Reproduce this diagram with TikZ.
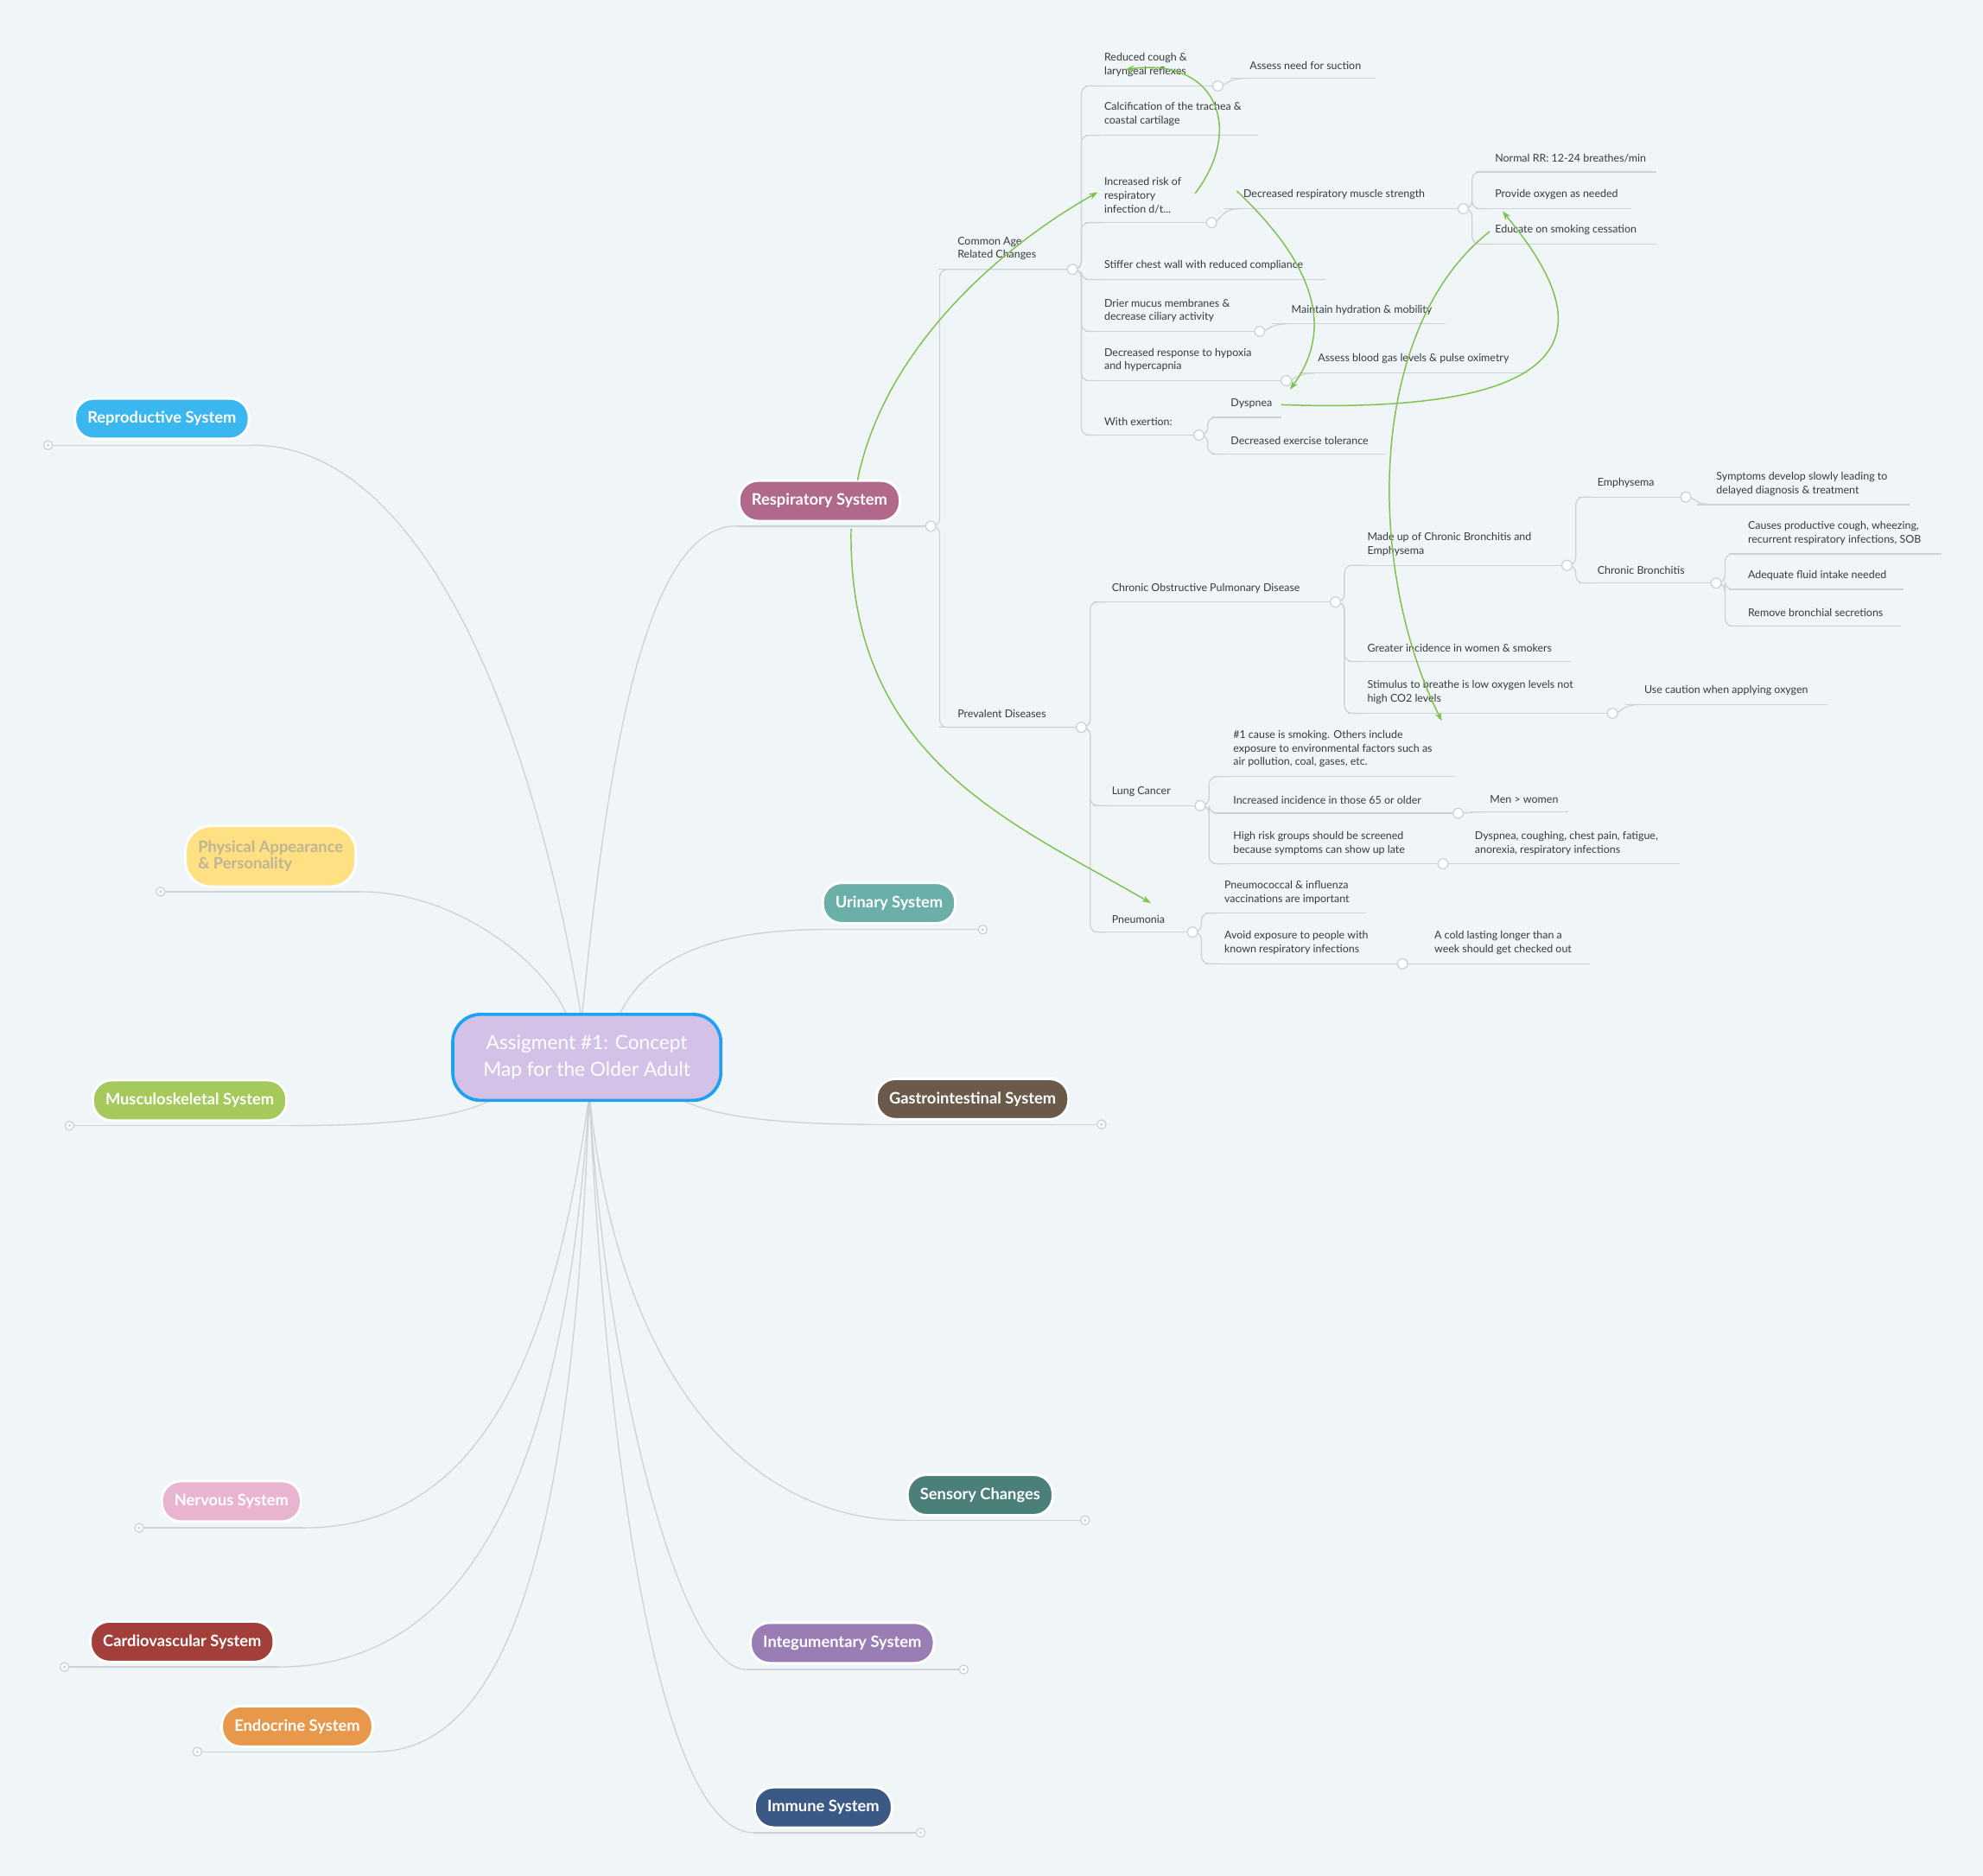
\documentclass[tikz,border=0pt]{standalone}
\usepackage{fontspec}
\setmainfont{Lato}
\usetikzlibrary{arrows.meta}
\definecolor{bg}{HTML}{F0F5F8}
\definecolor{lnc}{HTML}{CDD2D6}
\definecolor{txt}{HTML}{3A3A3A}
\definecolor{grn}{HTML}{7DC24B}
\tikzset{
 ln/.style={draw=lnc,line width=0.9pt},
 lbl/.style={text=txt,font=\fontsize{8.5}{10.8}\selectfont,align=left,inner sep=1pt},
 dotc/.style={circle,draw=lnc,fill=white,line width=0.9pt,minimum size=8pt,inner sep=0pt},
 mdot/.style={circle,draw=lnc,fill=white,line width=0.9pt,minimum size=7pt,inner sep=0pt,path picture={\fill[lnc](path picture bounding box.center) circle(1.2pt);}},
 pill/.style={rounded corners=15pt,draw=white,line width=2pt,text=white,font=\fontsize{12.5}{14}\selectfont\bfseries,minimum height=32pt,inner xsep=10pt},
 garr/.style={draw=grn,line width=1pt,-{Stealth[length=7pt,width=5pt]}},
}
\newcommand\leaf[5]{\node[lbl,anchor=south west] (#5) at (#1+14,#2-6) {#4};\draw[ln] (#1,#2)--(#3,#2);}
\newcommand\br[4]{\draw[ln,rounded corners=6] (#1,#2) -- (#1+7,#2) -- (#1+7,#4) -- (#3,#4);}
\newcommand\sbr[4]{\draw[ln] (#1,#2) .. controls (#1+8,#2) and (#1+6,#4) .. (#3,#4);}
\newcommand\cc[3]{\node[dotc] (#3) at (#1,#2) {};}
\begin{document}
\begin{tikzpicture}[x=1pt,y=-1pt]
\fill[bg] (0,0) rectangle (1568,1483);
\useasboundingbox (0,0) rectangle (1568,1483);
% main branch curves
\coordinate (ct) at (460,806);
\coordinate (cb) at (466,866);
\draw[ln] (200,352) .. controls (330,352) and (420,560) .. (ct);
\draw[ln] (285,705) .. controls (360,705) and (430,760) .. (448,802);
\draw[ln] (230,890) .. controls (330,890) and (370,880) .. (392,868);
\draw[ln] (240,1208) .. controls (390,1208) and (440,1050) .. (cb);
\draw[ln] (220,1318) .. controls (400,1318) and (450,1100) .. (cb);
\draw[ln] (297,1385) .. controls (420,1385) and (455,1150) .. (cb);
\draw[ln] (582,416) .. controls (510,416) and (480,600) .. (ct);
\draw[ln] (650,735) .. controls (560,735) and (510,760) .. (490,802);
\draw[ln] (690,889) .. controls (600,889) and (560,880) .. (540,870);
\draw[ln] (716,1202) .. controls (600,1202) and (490,1100) .. (cb);
\draw[ln] (590,1320) .. controls (540,1320) and (480,1100) .. (cb);
\draw[ln] (596,1449) .. controls (520,1449) and (480,1150) .. (cb);
% branch underlines
\draw[ln] (38,352)--(200,352); \node[mdot] at (38,352){};
\draw[ln] (127,705)--(285,705); \node[mdot] at (127,705){};
\draw[ln] (55,890)--(230,890); \node[mdot] at (55,890){};
\draw[ln] (110,1208)--(240,1208); \node[mdot] at (110,1208){};
\draw[ln] (51,1318)--(220,1318); \node[mdot] at (51,1318){};
\draw[ln] (156,1385)--(297,1385); \node[mdot] at (156,1385){};
\draw[ln] (582,416)--(736,416);
\draw[ln] (650,735)--(777,735); \node[mdot] at (777,735){};
\draw[ln] (690,889)--(871,889); \node[mdot] at (871,889){};
\draw[ln] (716,1202)--(858,1202); \node[mdot] at (858,1202){};
\draw[ln] (590,1320)--(762,1320); \node[mdot] at (762,1320){};
\draw[ln] (596,1449)--(728,1449); \node[mdot] at (728,1449){};
% central
\node[rounded corners=22pt,draw={rgb,255:red,29;green,161;blue,242},line width=2.5pt,fill={rgb,255:red,212;green,193;blue,232},text=white,font=\fontsize{15.5}{21}\selectfont,align=center,minimum width=212pt,minimum height=68pt] (center) at (464,836) {Assigment \#1: Concept\\Map for the Older Adult};
% pills
\node[pill,fill={rgb,255:red,59;green,183;blue,240}] (repro) at (128,331) {Reproductive System};
\node[pill,fill={rgb,255:red,255;green,224;blue,130},text={rgb,255:red,190;green,180;blue,150},align=left,rounded corners=20pt,minimum height=48pt] (phys) at (214,677) {Physical Appearance\\[-1pt]\& Personality};
\node[pill,fill={rgb,255:red,165;green,201;blue,90}] (musc) at (150,870) {Musculoskeletal System};
\node[pill,fill={rgb,255:red,232;green,180;blue,207}] (nerv) at (183,1187) {Nervous System};
\node[pill,fill={rgb,255:red,163;green,63;blue,58}] (card) at (144,1298) {Cardiovascular System};
\node[pill,fill={rgb,255:red,232;green,152;blue,74}] (endo) at (235,1365) {Endocrine System};
\node[pill,fill={rgb,255:red,176;green,105;blue,138}] (resp) at (648,396) {Respiratory System};
\node[pill,fill={rgb,255:red,107;green,176;blue,168}] (urin) at (703,714) {Urinary System};
\node[pill,fill={rgb,255:red,107;green,90;blue,74}] (gast) at (769,869) {Gastrointestinal System};
\node[pill,fill={rgb,255:red,74;green,127;blue,122}] (sens) at (775,1182) {Sensory Changes};
\node[pill,fill={rgb,255:red,155;green,125;blue,181}] (integ) at (666,1299) {Integumentary System};
\node[pill,fill={rgb,255:red,58;green,90;blue,133}] (immu) at (651,1429) {Immune System};
% respiratory subtree
\br{736}{416}{848}{213} \br{736}{416}{855}{575}
\leaf{742}{213}{848}{Common Age\\Related Changes}{cac}
\leaf{742}{575}{855}{Prevalent Diseases}{pd}
\cc{736}{416}{rc}
% common age children
\foreach \yy in {68,107,176,221,262,301,344} {\br{848}{213}{870}{\yy}}
\leaf{858}{68}{963}{Reduced cough \&\\laryngeal reflexes}{a1}
\leaf{858}{107}{995}{Calcification of the trachea \&\\coastal cartilage}{a2}
\leaf{858}{176}{958}{Increased risk of\\respiratory\\infection d/t...}{a3}
\leaf{858}{221}{1048}{Stiffer chest wall with reduced compliance}{a4}
\leaf{858}{262}{996}{Drier mucus membranes \&\\decrease ciliary activity}{a5}
\leaf{858}{301}{1017}{Decreased response to hypoxia\\and hypercapnia}{a6}
\leaf{858}{344}{948}{With exertion:}{a7}
\cc{848}{213}{c0}
\sbr{963}{68}{985}{62} \leaf{973}{62}{1088}{Assess need for suction}{b1} \cc{963}{68}{c1}
\sbr{958}{176}{980}{165} \leaf{968}{165}{1157}{Decreased respiratory muscle strength}{b3}
\foreach \yy in {136,165,193} {\br{1157}{165}{1180}{\yy}}
\leaf{1167}{136}{1310}{Normal RR: 12-24 breathes/min}{d1}
\leaf{1167}{165}{1290}{Provide oxygen as needed}{d2}
\leaf{1167}{193}{1310}{Educate on smoking cessation}{d3}
\cc{958}{176}{c3}\cc{1157}{165}{c3b}
\sbr{996}{262}{1020}{256} \leaf{1006}{256}{1143}{Maintain hydration \& mobility}{b5} \cc{996}{262}{c5}
\sbr{1017}{301}{1040}{295} \leaf{1027}{295}{1208}{Assess blood gas levels \& pulse oximetry}{b6} \cc{1017}{301}{c6}
\br{948}{344}{970}{330} \br{948}{344}{970}{359}
\leaf{958}{330}{1013}{Dyspnea}{b7} \leaf{958}{359}{1096}{Decreased exercise tolerance}{b8} \cc{948}{344}{c7}
% prevalent diseases
\foreach \yy in {476,637,737} {\br{855}{575}{875}{\yy}}
\leaf{864}{476}{1056}{Chronic Obstructive Pulmonary Disease}{copd}
\leaf{864}{637}{949}{Lung Cancer}{lc}
\leaf{864}{737}{943}{Pneumonia}{pn}
\cc{855}{575}{cp}
\foreach \yy in {447,523,564} {\br{1056}{476}{1080}{\yy}}
\leaf{1066}{447}{1239}{Made up of Chronic Bronchitis and\\Emphysema}{m1}
\leaf{1066}{523}{1242}{Greater incidence in women \& smokers}{m2}
\leaf{1066}{564}{1275}{Stimulus to breathe is low oxygen levels not\\high CO2 levels}{m3}
\cc{1056}{476}{ccopd}
\br{1239}{447}{1260}{393} \br{1239}{447}{1260}{461}
\leaf{1248}{393}{1333}{Emphysema}{em} \leaf{1248}{461}{1357}{Chronic Bronchitis}{cb}
\cc{1239}{447}{cm1}
\sbr{1333}{393}{1355}{399} \leaf{1342}{399}{1510}{Symptoms develop slowly leading to\\delayed diagnosis \& treatment}{em1} \cc{1333}{393}{cem}
\foreach \yy in {438,466,495} {\br{1357}{461}{1378}{\yy}}
\leaf{1367}{438}{1535}{Causes productive cough, wheezing,\\recurrent respiratory infections, SOB}{cb1}
\leaf{1367}{466}{1505}{Adequate fluid intake needed}{cb2}
\leaf{1367}{495}{1503}{Remove bronchial secretions}{cb3}
\cc{1357}{461}{ccb}
\sbr{1275}{564}{1298}{557} \leaf{1285}{557}{1445}{Use caution when applying oxygen}{m3a} \cc{1275}{564}{cm3}
\foreach \yy in {614,643,683} {\br{949}{637}{970}{\yy}}
\leaf{960}{614}{1150}{\#1 cause is smoking. Others include\\exposure to environmental factors such as\\air pollution, coal, gases, etc.}{l1}
\leaf{960}{643}{1153}{Increased incidence in those 65 or older}{l2}
\leaf{960}{683}{1141}{High risk groups should be screened\\because symptoms can show up late}{l3}
\cc{949}{637}{clc}
\sbr{1153}{643}{1175}{642} \leaf{1163}{642}{1240}{Men > women}{l2a} \cc{1153}{643}{cl2}
\sbr{1141}{683}{1162}{683} \leaf{1151}{683}{1328}{Dyspnea, coughing, chest pain, fatigue,\\anorexia, respiratory infections}{l3a} \cc{1141}{683}{cl3}
\br{943}{737}{965}{722} \br{943}{737}{965}{762}
\leaf{953}{722}{1080}{Pneumococcal \& influenza\\vaccinations are important}{p1}
\leaf{953}{762}{1109}{Avoid exposure to people with\\known respiratory infections}{p2}
\cc{943}{737}{cpn}
\sbr{1109}{762}{1130}{762} \leaf{1119}{762}{1257}{A cold lasting longer than a\\week should get checked out}{p2a} \cc{1109}{762}{cp2}
% green arrows
\draw[garr] (945,153) .. controls (985,100) and (960,45) .. (890,55);
\draw[garr] (678,380) .. controls (700,270) and (800,190) .. (868,152);
\draw[garr] (673,418) .. controls (670,600) and (800,650) .. (910,714);
\draw[garr] (978,151) .. controls (1040,210) and (1055,260) .. (1020,308);
\draw[garr] (1013,320) .. controls (1300,330) and (1240,230) .. (1188,167);
\draw[garr] (1178,183) .. controls (1080,260) and (1080,450) .. (1140,570);
\end{tikzpicture}
\end{document}
